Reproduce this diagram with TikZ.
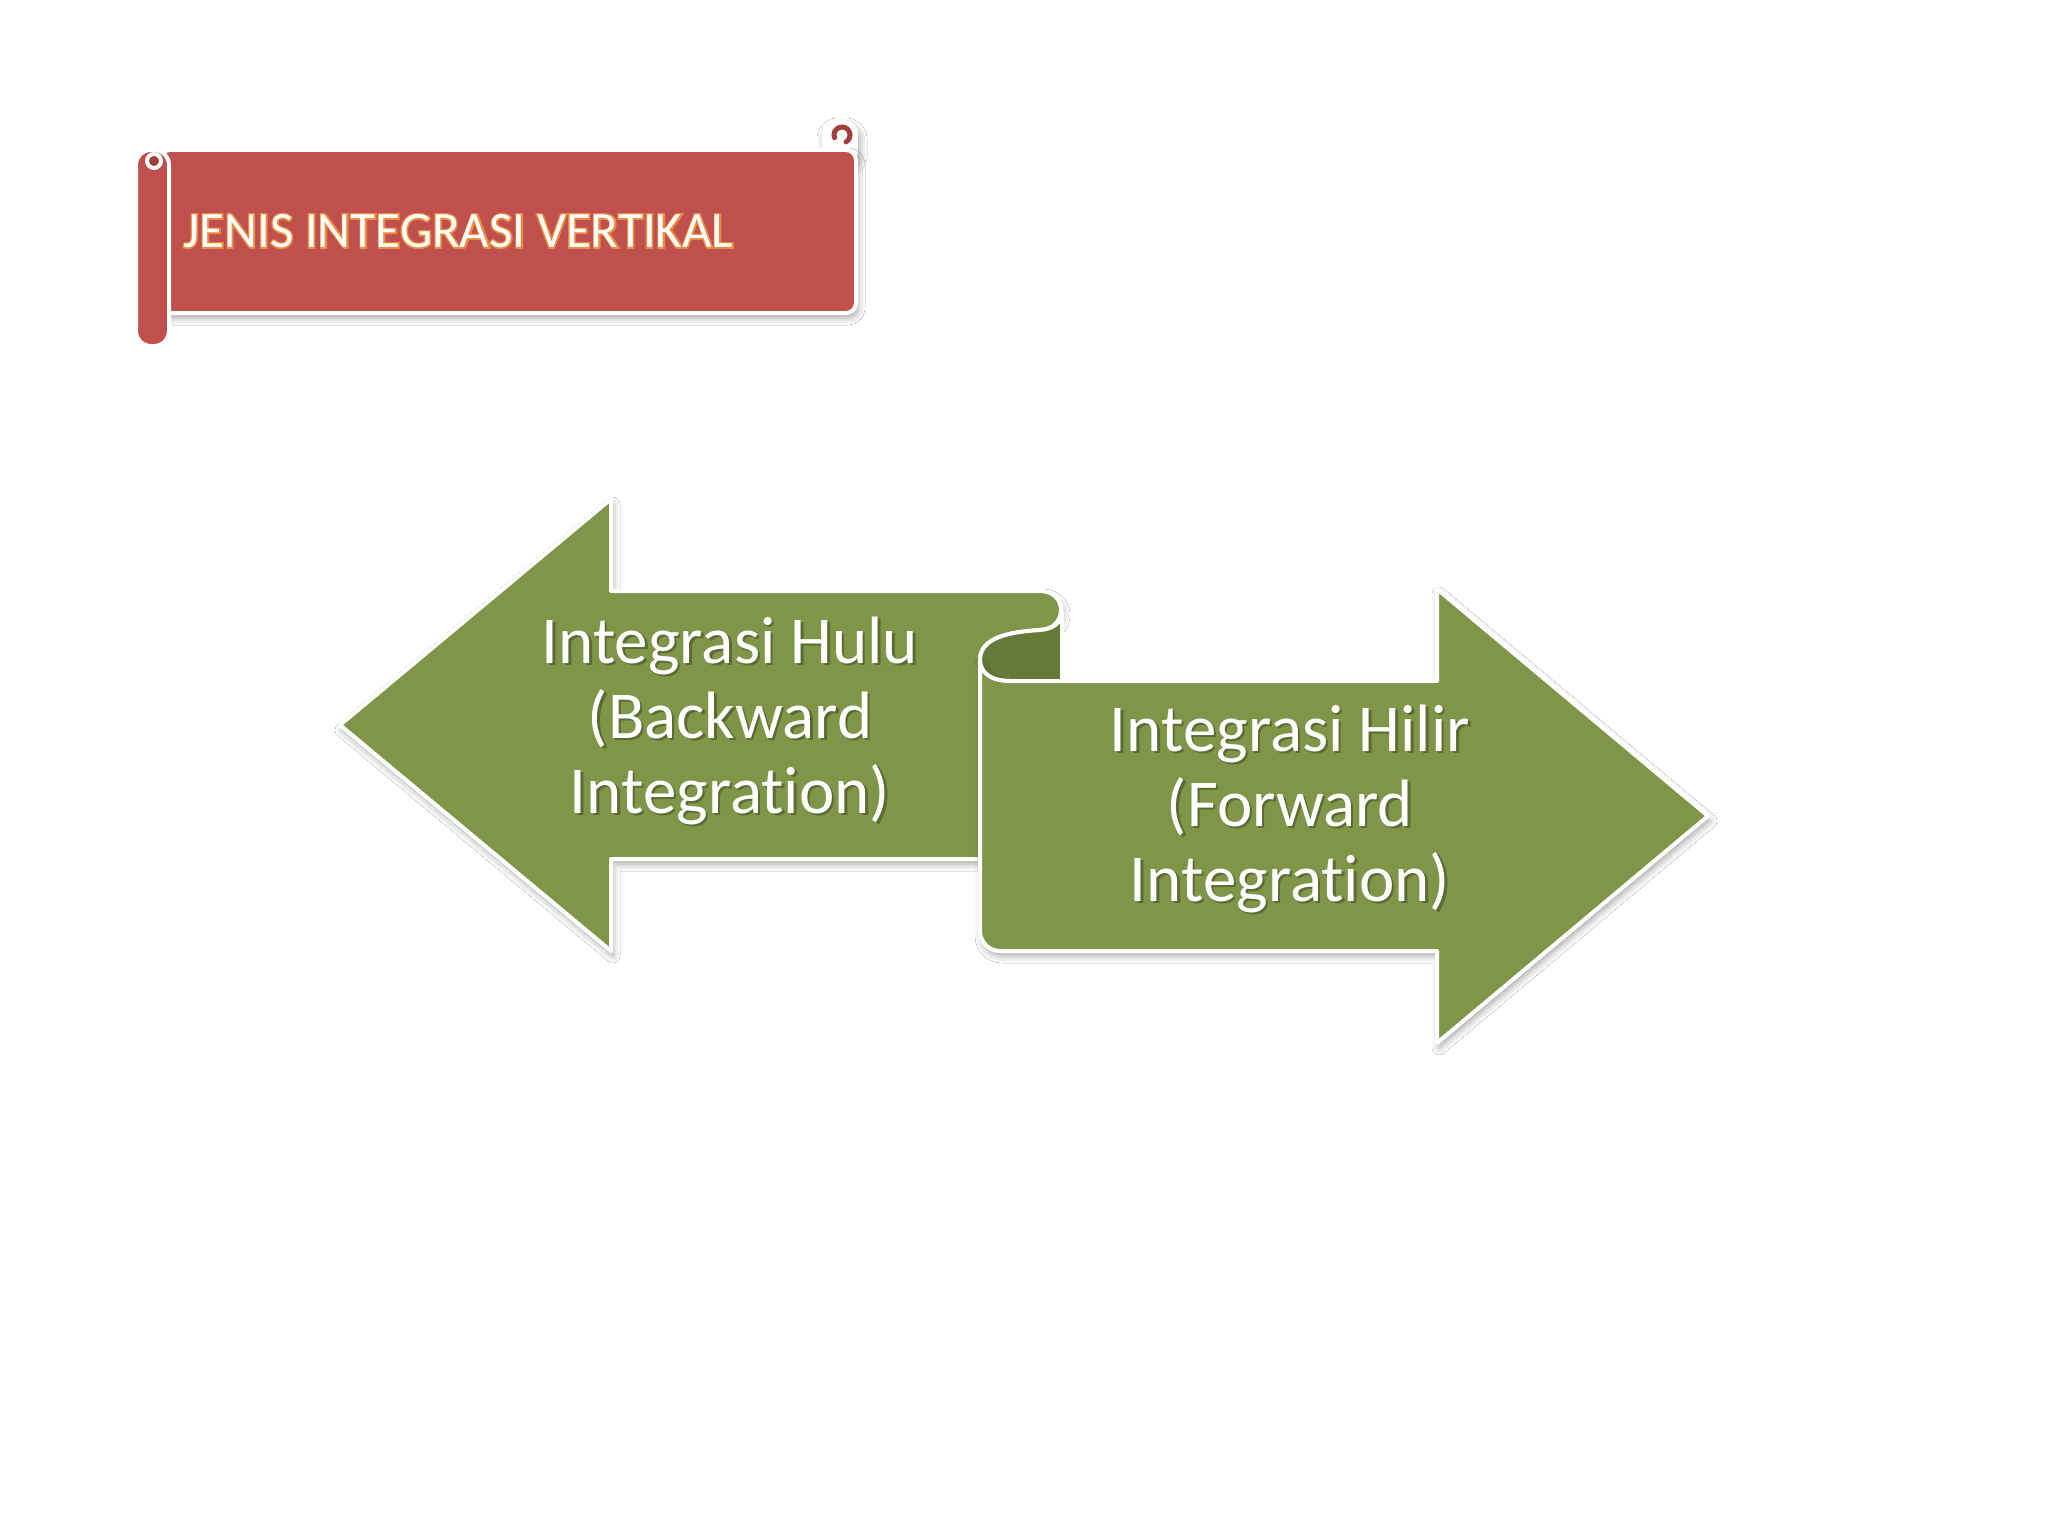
\documentclass[tikz,border=0pt]{standalone}
\usepackage{fontspec}
\setmainfont{Carlito}[Ligatures=CommonOff]
\newfontfamily\glowfont{Carlito}[Ligatures=CommonOff, FakeBold=6]
\usetikzlibrary{shadows.blur}
\definecolor{arrowgreen}{HTML}{7F9547}
\definecolor{rollgreen}{HTML}{657A38}
\definecolor{bannerred}{HTML}{C0504D}
\definecolor{curlred}{HTML}{A23F3C}
\definecolor{glowcol}{HTML}{EE8A3E}
\newcommand{\shadowtext}[1]{\makebox[0pt][l]{\hspace{2.5pt}\raisebox{-2.5pt}{\textcolor{arrowgreen!72!black}{#1}}}#1}
\newcommand{\glowtext}[1]{\makebox[0pt][l]{\glowfont\textcolor{glowcol}{#1}}#1}
\begin{document}
\begin{tikzpicture}[x=1pt,y=-1pt,
  arrowbody/.style={fill=arrowgreen, draw=white, line width=4pt, line join=round},
  rollback/.style={fill=rollgreen, draw=white, line width=4pt, line join=round},
  bannerbody/.style={fill=bannerred, draw=white, line width=4pt, line join=round},
  softshadow/.style={blur shadow={shadow xshift=2pt, shadow yshift=-5pt, shadow blur radius=7pt, shadow opacity=35}},
  arrowtext/.style={text=white, align=center, inner sep=0pt, font=\fontsize{67}{75}\selectfont},
  bannertext/.style={text=white, anchor=west, inner sep=0pt, font=\fontsize{51}{60}\selectfont},
]
\useasboundingbox (0,0) rectangle (2048,1536);
\fill[white] (0,0) rectangle (2048,1536);

% ---------- banner (horizontal scroll) ----------
\path[fill=white, softshadow, rounded corners=14pt] (822,120) rectangle (858,165);
\path[bannerbody, softshadow, rounded corners=10pt] (160,150) rectangle (856,313);
\draw[curlred, line width=5pt, line cap=round] (842,135) ++(160:8) arc[start angle=160, end angle=420, radius=8];
\path[bannerbody, rounded corners=15pt] (136,150) rectangle (169,346);
\path[fill=curlred, draw=white, line width=4pt] (154,161) circle[radius=7];

\node[bannertext] (title) at (183,231) {\glowtext{JENIS INTEGRASI VERTIKAL}};

% ---------- left arrow (upper) ----------
\path[arrowbody, softshadow]
  (340,725) -- (611,499) -- (611,591) -- (1040,591)
  .. controls (1068,591) and (1068,629) .. (1040,630)
  .. controls (1008,632) and (980,638) .. (980,660)
  -- (980,859) -- (611,859) -- (611,951) -- cycle;

% ---------- inner roll (dark) ----------
\path[rollback]
  (980,660) .. controls (980,638) and (1008,632) .. (1040,630)
  .. controls (1054,629) and (1062,622) .. (1062,612)
  -- (1062,681) -- (1010,681)
  .. controls (990,681) and (980,672) .. (980,660) -- cycle;

% ---------- right arrow (lower) ----------
\path[arrowbody, softshadow]
  (980,660) .. controls (980,672) and (990,681) .. (1010,681)
  -- (1437,681) -- (1437,589) -- (1708,816) -- (1437,1043) -- (1437,951)
  -- (1000,951) .. controls (989,951) and (980,942) .. (980,931) -- cycle;

% ---------- texts ----------
\node[arrowtext] (hulu) at (730,722)
  {\shadowtext{Integrasi Hulu}\\\shadowtext{(Backward}\\\shadowtext{Integration)}};
\node[arrowtext] (hilir) at (1290,810)
  {\shadowtext{Integrasi Hilir}\\\shadowtext{(Forward}\\\shadowtext{Integration)}};
\end{tikzpicture}
\end{document}
